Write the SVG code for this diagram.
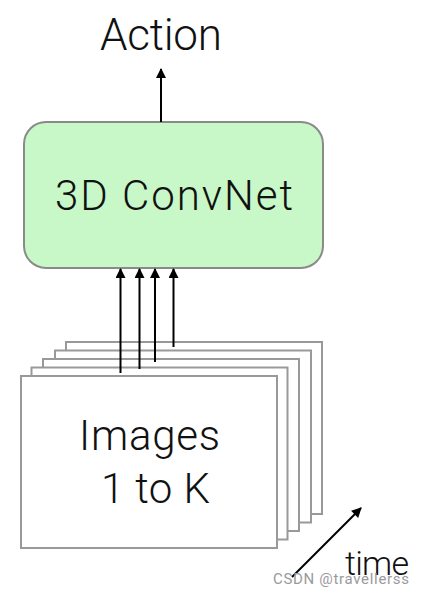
<svg xmlns="http://www.w3.org/2000/svg" width="426" height="595" viewBox="0 0 426 595">
<style>
text{font-family:Roboto,"Liberation Sans",Arial,sans-serif;font-weight:300;fill:#111}
.frame{fill:#fff;stroke:#999;stroke-width:2}
.conn{stroke:#000;stroke-width:2;fill:none;marker-end:url(#ah)}
</style>
<defs>
<marker id="ah" viewBox="0 0 10 10" refX="9" refY="5" markerWidth="5.5" markerHeight="5" orient="auto" markerUnits="strokeWidth">
<path d="M0,0 L10,5 L0,10 Z" fill="#000"/>
</marker>
</defs>
<rect width="426" height="595" fill="#fff"/>
<g id="action"><text x="100" y="50" font-size="44" textLength="122" lengthAdjust="spacing">Action</text></g>
<g id="convnet">
<rect x="24" y="122" width="299" height="146" rx="22" ry="22" fill="#c8f7c8" stroke="#8a8a8a" stroke-width="2"/>
<text x="55" y="210" font-size="42" textLength="238" lengthAdjust="spacing">3D ConvNet</text>
</g>
<g id="images">
<rect class="frame" x="66" y="342" width="256" height="172"/>
<rect class="frame" x="55" y="350.5" width="256" height="172"/>
<rect class="frame" x="43" y="359" width="256" height="172"/>
<rect class="frame" x="31.5" y="367.5" width="256" height="172"/>
<rect class="frame" x="21" y="376" width="256" height="172"/>
<text x="79" y="450" font-size="42" textLength="141" lengthAdjust="spacing">Images</text>
<text x="101" y="503" font-size="42" textLength="109" lengthAdjust="spacing">1 to K</text>
</g>
<g id="time"><text x="345" y="575" font-size="34" textLength="64" lengthAdjust="spacing">time</text></g>
<g id="connectors">
<line class="conn" x1="161" y1="122" x2="161" y2="69"/>
<line class="conn" x1="120.5" y1="373" x2="120.5" y2="269"/>
<line class="conn" x1="139.5" y1="369" x2="139.5" y2="269"/>
<line class="conn" x1="155" y1="362" x2="155" y2="269"/>
<line class="conn" x1="173.5" y1="347" x2="173.5" y2="269"/>
<line class="conn" x1="292" y1="577" x2="361" y2="508"/>
</g>
<text x="273" y="584" font-size="15" textLength="136" lengthAdjust="spacing" style="fill:#9a9a9a;font-weight:400">CSDN @travellerss</text>
</svg>
